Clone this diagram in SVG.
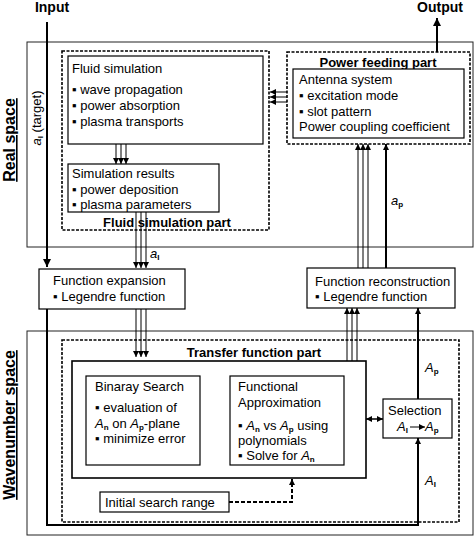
<svg xmlns="http://www.w3.org/2000/svg" width="474" height="537" viewBox="0 0 474 537">
<style>
text{font-family:"Liberation Sans",Arial,sans-serif;font-size:13px;fill:#000}
.b{font-weight:bold}
.i{font-style:italic}
.s{font-size:8px;font-weight:bold}
.box{fill:#fff;stroke:#000;stroke-width:1.2}
.inner{fill:#fff;stroke:#000;stroke-width:1.6}
.dash{fill:none;stroke:#000;stroke-width:1.6;stroke-dasharray:3 1.5}
.space{fill:#fff;stroke:#222;stroke-width:1}
.ln{fill:none;stroke:#000;stroke-width:1}
.th{fill:none;stroke:#000;stroke-width:2}
.dl{fill:none;stroke:#000;stroke-width:2;stroke-dasharray:4 2}
</style>
<defs>
<marker id="ah" viewBox="0 0 10 10" refX="10" refY="5" markerWidth="6" markerHeight="6" markerUnits="userSpaceOnUse" orient="auto-start-reverse"><path d="M0,0 L10,5 L0,10 z" fill="#000"/></marker>
<marker id="ahb" viewBox="0 0 10 10" refX="10" refY="5" markerWidth="8" markerHeight="8" markerUnits="userSpaceOnUse" orient="auto-start-reverse"><path d="M0,0 L10,5 L0,10 z" fill="#000"/></marker>
</defs>
<rect width="474" height="537" fill="#fff"/>

<g id="real-space">
<rect class="space" x="27" y="42" width="446" height="205"/>
<text class="b" text-decoration="underline" transform="translate(15,140) rotate(-90)" text-anchor="middle" style="font-size:16px">Real space</text>
<text transform="translate(41,118) rotate(-90)" text-anchor="middle"><tspan class="i">a</tspan><tspan class="s" dy="2">I</tspan><tspan dy="-2">   (target)</tspan></text>
</g>

<g id="wavenumber-space">
<rect class="space" x="27" y="331" width="446" height="204"/>
<text class="b" text-decoration="underline" transform="translate(15,425) rotate(-90)" text-anchor="middle" style="font-size:16px">Wavenumber space</text>
</g>

<g id="fluid-simulation-part">
<rect class="dash" x="62" y="51" width="207" height="179"/>
<text class="b" x="167" y="227" text-anchor="middle">Fluid simulation part</text>
</g>

<g id="fluid-simulation">
<rect class="box" x="68" y="56" width="195" height="88"/>
<text x="72" y="73">Fluid simulation</text>
<text x="72" y="94">▪ wave propagation</text>
<text x="72" y="110">▪ power absorption</text>
<text x="72" y="126">▪ plasma transports</text>
</g>

<g id="simulation-results">
<rect class="box" x="68" y="164" width="151" height="48"/>
<text x="72" y="178">Simulation results</text>
<text x="72" y="194">▪ power deposition</text>
<text x="72" y="209">▪ plasma parameters</text>
</g>

<g id="power-feeding-part">
<rect class="dash" x="287" y="52" width="183" height="92"/>
<text class="b" x="378" y="67" text-anchor="middle">Power feeding part</text>
</g>

<g id="antenna-system">
<rect class="box" x="293" y="69" width="171" height="69"/>
<text x="299" y="84">Antenna system</text>
<text x="299" y="100">▪ excitation mode</text>
<text x="299" y="116">▪ slot pattern</text>
<text x="299" y="131">Power coupling coefficient</text>
</g>

<g id="function-expansion">
<rect class="box" x="39" y="269" width="146" height="40"/>
<text x="53" y="285">Function expansion</text>
<text x="53" y="301">▪ Legendre function</text>
</g>

<g id="function-reconstruction">
<rect class="box" x="307" y="268" width="148" height="40"/>
<text x="315" y="286">Function reconstruction</text>
<text x="315" y="301">▪ Legendre function</text>
</g>

<g id="transfer-function-part">
<rect class="dash" x="62" y="340" width="397" height="182"/>
<text class="b" x="254" y="357" text-anchor="middle">Transfer function part</text>
</g>

<g id="transfer-core">
<rect class="inner" x="72" y="361" width="294" height="117"/>
</g>

<g id="binary-search">
<rect class="box" x="86" y="376" width="114" height="89"/>
<text x="95" y="391">Binaray Search</text>
<text x="95" y="412">▪ evaluation of</text>
<text x="95" y="428"><tspan class="i">A</tspan><tspan class="s" dy="2">n</tspan><tspan dy="-2"> on </tspan><tspan class="i">A</tspan><tspan class="s" dy="2">p</tspan><tspan dy="-2">-plane</tspan></text>
<text x="95" y="443">▪ minimize error</text>
</g>

<g id="functional-approximation">
<rect class="box" x="230" y="376" width="114" height="89"/>
<text x="238" y="391">Functional</text>
<text x="238" y="407">Approximation</text>
<text x="238" y="430">▪ <tspan class="i">A</tspan><tspan class="s" dy="2">n</tspan><tspan dy="-2"> vs </tspan><tspan class="i">A</tspan><tspan class="s" dy="2">p</tspan><tspan dy="-2"> using</tspan></text>
<text x="238" y="445">polynomials</text>
<text x="238" y="460">▪ Solve  for <tspan class="i">A</tspan><tspan class="s" dy="2">n</tspan></text>
</g>

<g id="selection">
<rect class="box" x="383" y="399" width="69" height="39"/>
<text x="388" y="415">Selection</text>
<text x="397" y="431"><tspan class="i">A</tspan><tspan class="s" dy="2">I</tspan></text>
<line class="ln" x1="410" y1="427" x2="425" y2="427" marker-end="url(#ah)"/>
<text x="425" y="431"><tspan class="i">A</tspan><tspan class="s" dy="2">p</tspan></text>
</g>

<g id="initial-search-range">
<rect class="box" x="100" y="492" width="129" height="20"/>
<text x="105" y="507">Initial search range</text>
</g>

<g id="io-labels">
<text class="b" x="52" y="12" text-anchor="middle" style="font-size:14px">Input</text>
<text class="b" x="440" y="12" text-anchor="middle" style="font-size:14px">Output</text>
</g>

<g id="connectors">
<line class="th" x1="47" y1="22" x2="47" y2="267" marker-end="url(#ahb)"/>
<line class="th" x1="437" y1="52" x2="437" y2="18" marker-end="url(#ahb)"/>
<line class="ln" x1="116" y1="144" x2="116" y2="164" marker-end="url(#ah)"/>
<line class="ln" x1="121" y1="144" x2="121" y2="164" marker-end="url(#ah)"/>
<line class="ln" x1="126" y1="144" x2="126" y2="164" marker-end="url(#ah)"/>
<line class="ln" x1="136" y1="212" x2="136" y2="268" marker-end="url(#ah)"/>
<line class="ln" x1="141" y1="212" x2="141" y2="268" marker-end="url(#ah)"/>
<line class="ln" x1="146" y1="212" x2="146" y2="268" marker-end="url(#ah)"/>
<text x="150" y="258"><tspan class="i">a</tspan><tspan class="s" dy="2">I</tspan></text>
<line class="ln" x1="287" y1="92" x2="270" y2="92" marker-end="url(#ah)"/>
<line class="ln" x1="287" y1="97" x2="270" y2="97" marker-end="url(#ah)"/>
<line class="ln" x1="287" y1="102" x2="270" y2="102" marker-end="url(#ah)"/>
<line class="ln" x1="136" y1="309" x2="136" y2="357" marker-end="url(#ah)"/>
<line class="ln" x1="141" y1="309" x2="141" y2="357" marker-end="url(#ah)"/>
<line class="ln" x1="146" y1="309" x2="146" y2="357" marker-end="url(#ah)"/>
<line class="ln" x1="347" y1="361" x2="347" y2="308" marker-end="url(#ah)"/>
<line class="ln" x1="352" y1="361" x2="352" y2="308" marker-end="url(#ah)"/>
<line class="ln" x1="357" y1="361" x2="357" y2="308" marker-end="url(#ah)"/>
<line class="ln" x1="358" y1="268" x2="358" y2="144" marker-end="url(#ah)"/>
<line class="ln" x1="363" y1="268" x2="363" y2="144" marker-end="url(#ah)"/>
<line class="ln" x1="368" y1="268" x2="368" y2="144" marker-end="url(#ah)"/>
<line class="th" x1="386" y1="268" x2="386" y2="144" marker-end="url(#ah)"/>
<text x="391" y="205"><tspan class="i">a</tspan><tspan class="s" dy="2">p</tspan></text>
<line class="th" x1="418" y1="399" x2="418" y2="308" marker-end="url(#ah)"/>
<text x="425" y="372"><tspan class="i">A</tspan><tspan class="s" dy="2">p</tspan></text>
<path class="th" d="M47,309 V525 H418 V438" marker-end="url(#ah)"/>
<text x="425" y="485"><tspan class="i">A</tspan><tspan class="s" dy="2">I</tspan></text>
<line class="ln" style="stroke-width:1.5" x1="366" y1="419" x2="383" y2="419" marker-start="url(#ah)" marker-end="url(#ah)"/>
<path class="dl" d="M229,502 H292 V479" marker-end="url(#ah)"/>
</g>
</svg>
